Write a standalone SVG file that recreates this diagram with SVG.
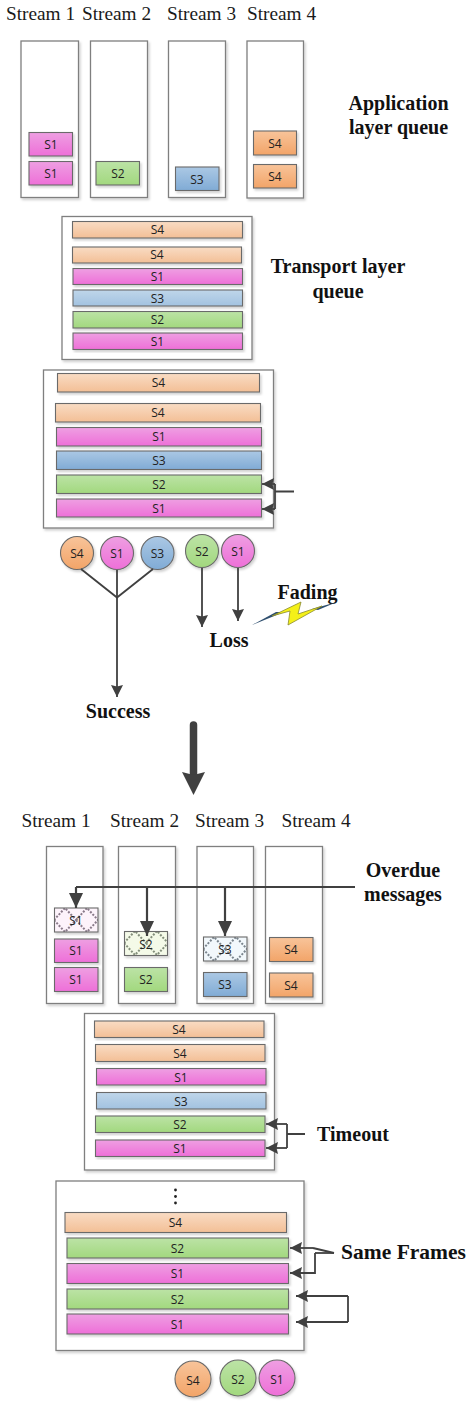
<svg xmlns="http://www.w3.org/2000/svg" width="474" height="1426" viewBox="0 0 474 1426">
<style>
text{font-family:"Open Sans","Noto Sans",sans-serif;font-size:12px;fill:#222;text-anchor:middle}
.t{font-family:"Liberation Serif",serif;font-size:19.3px;fill:#1a1a1a;text-anchor:start}
.b{font-family:"Liberation Serif",serif;font-size:20px;font-weight:bold;fill:#111}
.p,.o,.ol,.s3,.s3l,.g,.hp,.hg,.hb{stroke:#6a6a6a;stroke-width:1.1;filter:url(#sh)}
.box{fill:#fff;stroke:#7f7f7f;stroke-width:1.3;filter:url(#sh)}
.p{fill:url(#gp)}.o{fill:url(#go)}.ol{fill:url(#gol)}.s3{fill:url(#gb)}.s3l{fill:url(#gbl)}.g{fill:url(#gg)}
.hp{fill:url(#hp)}.hg{fill:url(#hg)}.hb{fill:url(#hb)}
.c{fill:none;stroke:#404040;stroke-width:1.8}
.a{marker-end:url(#ar)}
.a2{marker-end:url(#ar2)}
</style>
<defs>
<filter id="sh" x="-10%" y="-10%" width="125%" height="130%"><feDropShadow dx="1.5" dy="2" stdDeviation="1.2" flood-color="#000" flood-opacity=".18"/></filter>
<linearGradient id="gp" x1="0" y1="0" x2="0" y2="1"><stop offset="0" stop-color="#ee9fe2"/><stop offset="1" stop-color="#ee6fd8"/></linearGradient>
<linearGradient id="go" x1="0" y1="0" x2="0" y2="1"><stop offset="0" stop-color="#f8c49a"/><stop offset="1" stop-color="#f2a468"/></linearGradient>
<linearGradient id="gol" x1="0" y1="0" x2="0" y2="1"><stop offset="0" stop-color="#f9dcc4"/><stop offset="1" stop-color="#f3bf96"/></linearGradient>
<linearGradient id="gb" x1="0" y1="0" x2="0" y2="1"><stop offset="0" stop-color="#abc8e4"/><stop offset="1" stop-color="#80abd5"/></linearGradient>
<linearGradient id="gbl" x1="0" y1="0" x2="0" y2="1"><stop offset="0" stop-color="#bfd6ea"/><stop offset="1" stop-color="#a2c2e0"/></linearGradient>
<linearGradient id="gg" x1="0" y1="0" x2="0" y2="1"><stop offset="0" stop-color="#bce3a6"/><stop offset="1" stop-color="#a2d87e"/></linearGradient>
<pattern id="hp" width="22" height="24" patternUnits="userSpaceOnUse" x="54" y="908"><rect width="22" height="24" fill="#fdf3fb"/><path d="M0 12L11 0L22 12L11 24Z" fill="none" stroke="#8a7a8a" stroke-width="2" stroke-dasharray="2 1.5"/></pattern>
<pattern id="hg" width="22" height="24" patternUnits="userSpaceOnUse" x="124" y="931"><rect width="22" height="24" fill="#f4fae8"/><path d="M0 12L11 0L22 12L11 24Z" fill="none" stroke="#848f7c" stroke-width="2" stroke-dasharray="2 1.5"/></pattern>
<pattern id="hb" width="22" height="24" patternUnits="userSpaceOnUse" x="203" y="937"><rect width="22" height="24" fill="#f2f8fc"/><path d="M0 12L11 0L22 12L11 24Z" fill="none" stroke="#7a858e" stroke-width="2" stroke-dasharray="2 1.5"/></pattern>
<marker id="ar" markerUnits="userSpaceOnUse" markerWidth="13" markerHeight="14" refX="12" refY="7" orient="auto"><path d="M0 1L12 7L0 13L1.5 7Z" fill="#404040"/></marker>
<marker id="ar2" markerUnits="userSpaceOnUse" markerWidth="16" markerHeight="16" refX="15" refY="8" orient="auto"><path d="M0 1L15 8L0 15Z" fill="#404040"/></marker>
</defs>
<rect width="474" height="1426" fill="#fff"/>

<g id="labels">
<text class="t" x="6" y="20">Stream 1</text>
<text class="t" x="82" y="20">Stream 2</text>
<text class="t" x="167" y="20">Stream 3</text>
<text class="t" x="247" y="20">Stream 4</text>
<text class="b" x="398.5" y="110">Application</text>
<text class="b" x="398.5" y="134">layer queue</text>
<text class="b" x="338" y="273">Transport layer</text>
<text class="b" x="338" y="298">queue</text>
<text class="b" x="307.5" y="599">Fading</text>
<text class="b" x="229" y="647">Loss</text>
<text class="b" x="118" y="718">Success</text>
<text class="t" x="21.5" y="827">Stream 1</text>
<text class="t" x="110" y="827">Stream 2</text>
<text class="t" x="195" y="827">Stream 3</text>
<text class="t" x="281.5" y="827">Stream 4</text>
<text class="b" x="403" y="877">Overdue</text>
<text class="b" x="403" y="901">messages</text>
<text class="b" x="353" y="1141">Timeout</text>
<text class="b" x="403.500" y="1259" style="font-size:21.500px">Same Frames</text>
</g>

<g id="app-queue-1">
<rect class="box" x="21" y="41" width="57.5" height="156.5"/>
<rect class="box" x="90.5" y="41" width="57" height="156.5"/>
<rect class="box" x="168.5" y="41" width="57" height="156.5"/>
<rect class="box" x="247" y="41" width="56.5" height="157"/>
</g>
<g id="app-s1-a"><rect class="p" x="29" y="132.5" width="43.5" height="23.5"/><text x="51" y="149">S1</text></g>
<g id="app-s1-b"><rect class="p" x="29" y="161.5" width="43.5" height="23.5"/><text x="51" y="178">S1</text></g>
<g id="app-s2"><rect class="g" x="96" y="161.5" width="43.5" height="23.5"/><text x="118" y="178">S2</text></g>
<g id="app-s3"><rect class="s3" x="175.5" y="167" width="43.5" height="23.5"/><text x="197" y="184">S3</text></g>
<g id="app-s4-a"><rect class="o" x="253.5" y="131" width="43" height="24"/><text x="275" y="148">S4</text></g>
<g id="app-s4-b"><rect class="o" x="253.5" y="164.5" width="43" height="23.5"/><text x="275" y="181">S4</text></g>

<g id="transport-queue-1"><rect class="box" x="62" y="216.5" width="190" height="143"/></g>
<g id="tq1-1"><rect class="ol" x="72.5" y="221.5" width="170" height="16.5"/><text x="157.5" y="234">S4</text></g>
<g id="tq1-2"><rect class="ol" x="72.5" y="247" width="169" height="16"/><text x="157" y="259">S4</text></g>
<g id="tq1-3"><rect class="p" x="73" y="268.5" width="169.5" height="16"/><text x="157.5" y="281">S1</text></g>
<g id="tq1-4"><rect class="s3l" x="73" y="290" width="169.5" height="16"/><text x="157.5" y="302.5">S3</text></g>
<g id="tq1-5"><rect class="g" x="73" y="311.5" width="169.5" height="16.5"/><text x="157.5" y="324">S2</text></g>
<g id="tq1-6"><rect class="p" x="73" y="333" width="169.5" height="16.5"/><text x="157.5" y="346">S1</text></g>

<g id="mac-queue-1"><rect class="box" x="43.5" y="370" width="230" height="158"/></g>
<g id="mq1-1"><rect class="ol" x="57.5" y="373.5" width="202" height="18.5"/><text x="158.5" y="387">S4</text></g>
<g id="mq1-2"><rect class="ol" x="55.5" y="403.5" width="205" height="18.5"/><text x="158" y="417">S4</text></g>
<g id="mq1-3"><rect class="p" x="56.5" y="427.5" width="205" height="18.5"/><text x="159" y="441">S1</text></g>
<g id="mq1-4"><rect class="s3" x="56.5" y="451" width="205" height="18.5"/><text x="159" y="464.5">S3</text></g>
<g id="mq1-5"><rect class="g" x="56.5" y="475" width="205" height="18.5"/><text x="159" y="488.5">S2</text></g>
<g id="mq1-6"><rect class="p" x="56.5" y="499" width="205" height="18"/><text x="159" y="512.5">S1</text></g>

<g id="c1-s4"><circle class="o" cx="77" cy="553" r="16.5"/><text x="77" y="557.500">S4</text></g>
<g id="c1-s1"><circle class="p" cx="117" cy="553" r="16.5"/><text x="117" y="557.500">S1</text></g>
<g id="c1-s3"><circle class="s3" cx="157.5" cy="553" r="16.5"/><text x="157.5" y="557.500">S3</text></g>
<g id="c1-s2b"><circle class="g" cx="202" cy="551" r="16.5"/><text x="202" y="555.500">S2</text></g>
<g id="c1-s1b"><circle class="p" cx="238" cy="551" r="16.5"/><text x="238" y="555.500">S1</text></g>

<g id="fading-bolt">
<path d="M252 625L276 612L284 612Z" fill="#2f4f6f"/>
<path d="M312 609L337 602L318 610Z" fill="#2f4f6f"/>
<path d="M272 616L301 602L298 614L322 606L288 625L290 611Z" fill="#f4f018" stroke="#8a8a30" stroke-width=".8"/>
</g>

<g id="transport-queue-2"><rect class="box" x="84.5" y="1013.5" width="190" height="156.5"/></g>
<g id="tq2-1"><rect class="ol" x="94.5" y="1021" width="169.5" height="16.5"/><text x="179" y="1034">S4</text></g>
<g id="tq2-2"><rect class="ol" x="95.5" y="1044.5" width="169.5" height="17"/><text x="180" y="1058">S4</text></g>
<g id="tq2-3"><rect class="p" x="96.5" y="1068.5" width="169.5" height="16.5"/><text x="181" y="1081.5">S1</text></g>
<g id="tq2-4"><rect class="s3l" x="96.5" y="1092.5" width="169.5" height="16.5"/><text x="181" y="1105.5">S3</text></g>
<g id="tq2-5"><rect class="g" x="95.5" y="1116" width="169.5" height="16.5"/><text x="180" y="1129">S2</text></g>
<g id="tq2-6"><rect class="p" x="95.5" y="1140" width="169.5" height="16.5"/><text x="180" y="1152.5">S1</text></g>

<g id="app-queue-2">
<rect class="box" x="46.5" y="846.5" width="56.5" height="157"/>
<rect class="box" x="118.5" y="846.5" width="57" height="157"/>
<rect class="box" x="197" y="846.5" width="56.5" height="157"/>
<rect class="box" x="265.5" y="846.5" width="57" height="157"/>
</g>
<g id="app2-s1-over"><rect class="hp" x="54.5" y="908" width="43.5" height="24"/><text x="76" y="925">S1</text></g>
<g id="app2-s1-a"><rect class="p" x="54.5" y="939" width="43.5" height="23.5"/><text x="76" y="955">S1</text></g>
<g id="app2-s1-b"><rect class="p" x="54.5" y="967.5" width="43.5" height="24"/><text x="76" y="984">S1</text></g>
<g id="app2-s2-over"><rect class="hg" x="124.5" y="931.5" width="43" height="24"/><text x="146" y="949">S2</text></g>
<g id="app2-s2"><rect class="g" x="124.5" y="967.5" width="43" height="24"/><text x="146" y="984">S2</text></g>
<g id="app2-s3-over"><rect class="hb" x="203.5" y="937" width="43.5" height="24"/><text x="225" y="954">S3</text></g>
<g id="app2-s3"><rect class="s3" x="203.5" y="972.5" width="43.5" height="24"/><text x="225" y="989">S3</text></g>
<g id="app2-s4-a"><rect class="o" x="269.5" y="937.5" width="43.5" height="24"/><text x="291" y="954">S4</text></g>
<g id="app2-s4-b"><rect class="o" x="269.5" y="973" width="43.5" height="24"/><text x="291" y="990">S4</text></g>

<g id="mac-queue-2"><rect class="box" x="56" y="1181" width="248" height="169.5"/></g>
<g id="mq2-dots"><circle cx="175.5" cy="1190" r="1.4" fill="#222"/><circle cx="175.5" cy="1196.5" r="1.4" fill="#222"/><circle cx="175.5" cy="1203" r="1.4" fill="#222"/></g>
<g id="mq2-1"><rect class="ol" x="65" y="1212.5" width="221.5" height="20"/><text x="175.5" y="1227">S4</text></g>
<g id="mq2-2"><rect class="g" x="67" y="1238" width="221.5" height="20"/><text x="177.5" y="1252.500">S2</text></g>
<g id="mq2-3"><rect class="p" x="67" y="1263.5" width="221.5" height="20"/><text x="177.5" y="1278">S1</text></g>
<g id="mq2-4"><rect class="g" x="67" y="1289" width="221.5" height="20"/><text x="177.5" y="1303.500">S2</text></g>
<g id="mq2-5"><rect class="p" x="67" y="1314" width="221.5" height="20"/><text x="177.5" y="1328.500">S1</text></g>

<g id="c2-s4"><circle class="o" cx="193" cy="1379" r="18"/><text x="193" y="1384.500">S4</text></g>
<g id="c2-s2"><circle class="g" cx="238" cy="1378" r="18"/><text x="238" y="1383.500">S2</text></g>
<g id="c2-s1"><circle class="p" cx="277" cy="1378" r="18"/><text x="277" y="1383.500">S1</text></g>

<g id="connectors">
<path class="c a" d="M275 484H262"/>
<path class="c a" d="M275 509H262"/>
<path class="c" d="M275 484V509M275 491.5H294"/>
<path class="c" d="M81 569L117 597.5L153 569"/>
<path class="c a" d="M117 570V697"/>
<path class="c a" d="M202 568V627"/>
<path class="c a" d="M238 568V621"/>
<path d="M193.500 725V775" fill="none" stroke="#404040" stroke-width="7.500" stroke-linecap="round"/>
<path d="M182 772L193.500 775L205 772L193.500 795Z" fill="#404040"/>
<path class="c" d="M355 887H76" style="stroke-width:2.200px"/>
<path class="c a2" d="M76 887V908" style="stroke-width:2.200px"/>
<path class="c a2" d="M147 887V936" style="stroke-width:2.200px"/>
<path class="c a2" d="M225 887V936" style="stroke-width:2.200px"/>
<path class="c a" d="M287 1124H266"/>
<path class="c a" d="M287 1148H266"/>
<path class="c" d="M287 1124V1148M287 1134H305"/>
<path class="c a" d="M313 1248H290"/>
<path class="c" d="M334 1253L313 1248"/>
<path class="c a" d="M315 1253V1273H290"/>
<path class="c" d="M334 1253H315"/>
<path class="c a" d="M348 1296H296"/>
<path class="c a" d="M348 1322H296"/>
<path class="c" d="M348 1296V1322"/>
</g>
</svg>
